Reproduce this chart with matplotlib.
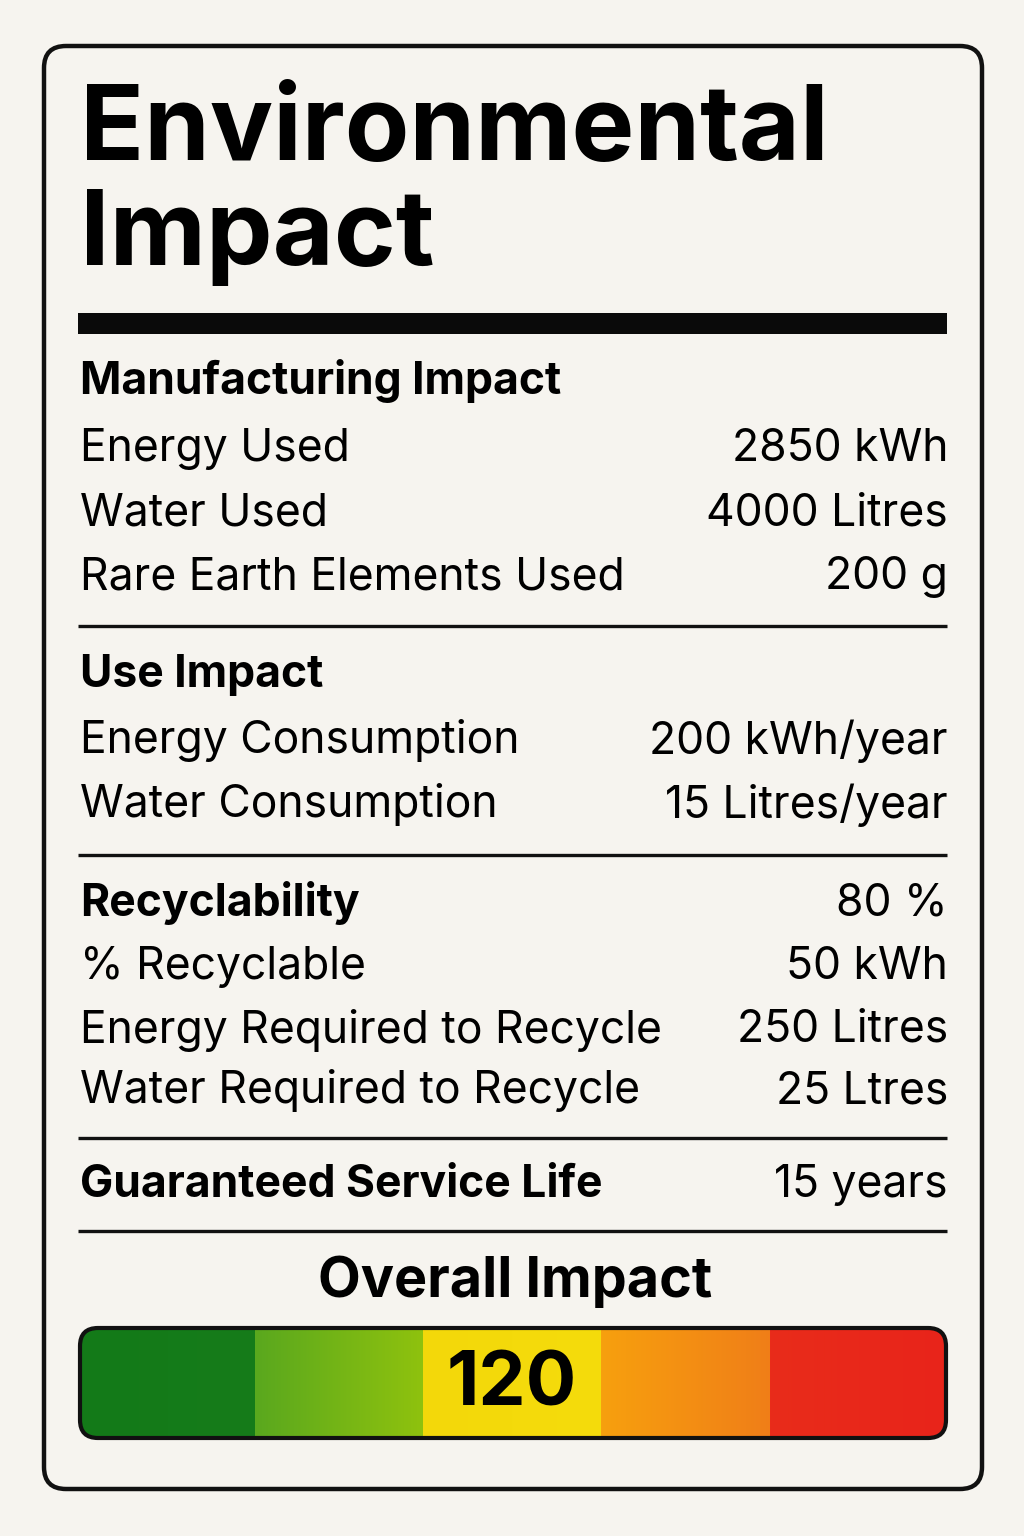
import matplotlib
matplotlib.use("Agg")
import matplotlib.pyplot as plt
import numpy as np
from matplotlib.patches import FancyBboxPatch, Rectangle
from matplotlib.colors import to_rgb

title_lines = ["Environmental", "Impact"]
sections = ["Manufacturing Impact", "Use Impact", "Recyclability", "Guaranteed Service Life"]
section_values = ["", "", "80 %", "15 years"]
manuf_labels = ["Energy Used", "Water Used", "Rare Earth Elements Used"]
manuf_values = ["2850 kWh", "4000 Litres", "200 g"]
use_labels = ["Energy Consumption", "Water Consumption"]
use_values = ["200 kWh/year", "15 Litres/year"]
recyc_labels = ["% Recyclable", "Energy Required to Recycle", "Water Required to Recycle"]
recyc_values = ["50 kWh", "250 Litres", "25 Ltres"]
overall_title = "Overall Impact"
overall_score = "120"
scale_colors = [("#137a18", "#167c1a"), ("#5aa81e", "#8fc20e"), ("#f3d80a", "#f5dc0c"),
                ("#f7a00e", "#f07e18"), ("#e92c1a", "#e8241a")]

plt.rcParams['font.family'] = ['Inter', 'DejaVu Sans']
fig = plt.figure(figsize=(10.24, 15.36), dpi=100)
fig.patch.set_facecolor("#f6f4ef")
ax = fig.add_axes([0, 0, 1, 1])
ax.set_xlim(0, 1024); ax.set_ylim(1536, 0); ax.axis("off")
ax.set_facecolor("#f6f4ef")

ax.add_patch(FancyBboxPatch((44, 46), 938, 1443, boxstyle="round,pad=0,rounding_size=22",
                            fc="none", ec="#111111", lw=3.2))
L, R = 80, 946
ax.text(L, 132, title_lines[0], fontsize=76, fontweight="bold", va="center", ha="left")
ax.text(L, 237, title_lines[1], fontsize=76, fontweight="bold", va="center", ha="left")
ax.add_patch(Rectangle((78, 313), 869, 21, fc="#0a0a0a", ec="none"))

fs = 32
def row(y, lab, val, bold=False):
    ax.text(L, y, lab, fontsize=fs, fontweight="bold" if bold else "normal", va="center", ha="left")
    if val:
        ax.text(R + 2, y, val, fontsize=fs, va="center", ha="right")

def hline(y):
    ax.plot([78, 947], [y, y], color="#111111", lw=2.4, solid_capstyle="butt")

row(381, sections[0], section_values[0], True)
for y, l, v in zip([449, 514, 577], manuf_labels, manuf_values):
    row(y, l, v)
hline(626)
row(675, sections[1], section_values[1], True)
for y, l, v in zip([741, 805], use_labels, use_values):
    row(y, l, v)
hline(855)
row(903, sections[2], section_values[2], True)
for y, l, v in zip([967, 1030, 1091], recyc_labels, recyc_values):
    row(y, l, v)
hline(1138)
row(1185, sections[3], section_values[3], True)
hline(1231)

ax.text(515, 1282, overall_title, fontsize=40, fontweight="bold", va="center", ha="center")

x0, x1, y0, y1 = 80, 946, 1328, 1438
bounds = np.linspace(x0, x1, len(scale_colors) + 1)
bounds = [80, 255, 423, 601, 770, 946]
W = 866
img = np.zeros((1, W, 3))
xs = np.arange(W) + x0
for i, (c0, c1) in enumerate(scale_colors):
    m = (xs >= bounds[i]) & (xs < bounds[i + 1] + 1)
    t = (xs[m] - bounds[i]) / (bounds[i + 1] - bounds[i])
    a, b = np.array(to_rgb(c0)), np.array(to_rgb(c1))
    img[0, m] = a[None, :] * (1 - t[:, None]) + b[None, :] * t[:, None]
im = ax.imshow(img, extent=(x0, x1, y1, y0), aspect="auto", zorder=1)
clip = FancyBboxPatch((x0, y0), x1 - x0, y1 - y0, boxstyle="round,pad=0,rounding_size=18",
                      fc="none", ec="none", transform=ax.transData)
ax.add_patch(clip)
im.set_clip_path(clip)
ax.add_patch(FancyBboxPatch((x0, y0), x1 - x0, y1 - y0, boxstyle="round,pad=0,rounding_size=18",
                            fc="none", ec="#111111", lw=3, zorder=3))
ax.set_xlim(0, 1024); ax.set_ylim(1536, 0)
ax.text(512, 1386, overall_score, fontsize=54, fontweight="bold", va="center", ha="center", zorder=4)

fig.savefig("out.png", dpi=100, facecolor=fig.get_facecolor())
